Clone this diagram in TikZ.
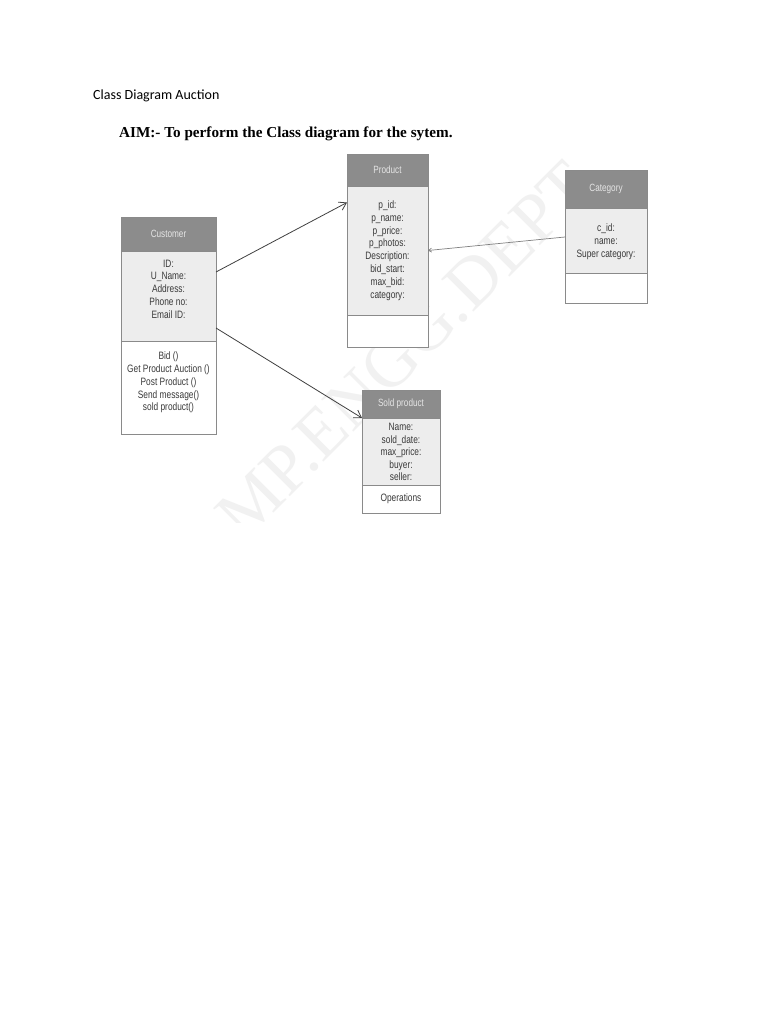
\documentclass[tikz,border=0pt]{standalone}
\usepackage{fontspec}
\setmainfont{Liberation Serif}
\newfontfamily\carl{Carlito}
\newfontfamily\cond[FakeStretch=0.78]{Liberation Sans}
\usetikzlibrary{arrows.meta}
\definecolor{hdr}{HTML}{8C8C8C}
\definecolor{attrbg}{HTML}{EDEDED}
\definecolor{bord}{HTML}{8A8A8A}
\definecolor{txt}{HTML}{3A3A3A}
\definecolor{wmc}{HTML}{F1F1F1}
\definecolor{linec}{HTML}{404040}
\begin{document}
\begin{tikzpicture}[x=1pt,y=-1pt,
 comp/.style={draw=bord, line width=0.9pt, inner sep=0pt, outer sep=0pt, anchor=north west},
 hdrbox/.style={comp, fill=hdr},
 attrbox/.style={comp, fill=attrbg},
 methbox/.style={comp, fill=white},
 lbl/.style={font=\cond\fontsize{10.7}{12.8}\selectfont, text=txt, align=center, inner sep=0pt},
 hlbl/.style={font=\cond\fontsize{10.5}{12.8}\selectfont, text=white!90!black, inner sep=0pt},
 assoc/.style={draw=linec, line width=0.8pt, -{Straight Barb[length=7pt,width=9pt]}},
 thinassoc/.style={draw=gray, line width=0.7pt, -{Straight Barb[length=3pt,width=4pt]}}]

\useasboundingbox (0,0) rectangle (768,1024);
\fill[white] (0,0) rectangle (768,1024);

% watermark
\begin{scope}
\clip (100,148) rectangle (662,522);
\node[rotate=45, font=\fontsize{70}{70}\selectfont, text=wmc, inner sep=0pt] (wm) at (404,350) {MP.ENGG.DEPT};
\end{scope}

% titles
\node[anchor=base west, inner sep=0pt, font=\carl\fontsize{14}{16}\selectfont] (t1) at (93,100) {Class Diagram Auction};
\node[anchor=base west, inner sep=0pt, font=\bfseries\fontsize{15.2}{17}\selectfont] (t2) at (119,137.5) {AIM:- To perform the Class diagram for the sytem.};

% Customer
\node[hdrbox, minimum width=95pt, minimum height=34pt] (cush) at (121,217) {};
\node[attrbox, minimum width=95pt, minimum height=90pt] (cusa) at (121,251) {};
\node[methbox, minimum width=95pt, minimum height=93pt] (cusm) at (121,341) {};
\node[hlbl] (cusht) at (168.5,234) {Customer};
\node[lbl] (cusat) at (168.5,289) {ID:\\U\_Name:\\Address:\\Phone no:\\Email ID:};
\node[lbl] (cusmt) at (168.5,382.5) {Bid ()\\Get Product Auction ()\\Post Product ()\\Send message()\\sold product()};

% Product
\node[hdrbox, minimum width=81pt, minimum height=32pt] (prodh) at (347,154) {};
\node[attrbox, minimum width=81pt, minimum height=129pt] (proda) at (347,186) {};
\node[methbox, minimum width=81pt, minimum height=32pt] (prodm) at (347,315) {};
\node[hlbl] (prodht) at (387.5,170) {Product};
\node[lbl] (prodat) at (387.5,250.5) {p\_id:\\p\_name:\\p\_price:\\p\_photos:\\Description:\\bid\_start:\\max\_bid:\\category:};

% Category
\node[hdrbox, minimum width=82pt, minimum height=38pt] (cath) at (565,170) {};
\node[attrbox, minimum width=82pt, minimum height=65pt] (cata) at (565,208) {};
\node[methbox, minimum width=82pt, minimum height=30pt] (catm) at (565,273) {};
\node[hlbl] (catht) at (606,189) {Category};
\node[lbl] (catat) at (606,241.5) {c\_id:\\name:\\Super category:};

% Sold product
\node[hdrbox, minimum width=78pt, minimum height=28pt] (soldh) at (362,390) {};
\node[attrbox, minimum width=78pt, minimum height=67pt] (solda) at (362,418) {};
\node[methbox, minimum width=78pt, minimum height=28pt] (soldm) at (362,485) {};
\node[hlbl] (soldht) at (401,404) {Sold product};
\node[lbl, font=\cond\fontsize{10.7}{12.5}\selectfont] (soldat) at (401,452) {Name:\\sold\_date:\\max\_price:\\buyer:\\seller:};
\node[lbl] (soldmt) at (401,499) {Operations};

% connectors
\draw[assoc] ([yshift=24pt]cusa.east) -- ([yshift=48pt]proda.west);
\draw[assoc] ([yshift=-32pt]cusa.east) -- (solda.north west);
\draw[thinassoc] ([yshift=3.5pt]cata.west) -- (proda.east);
\end{tikzpicture}
\end{document}
